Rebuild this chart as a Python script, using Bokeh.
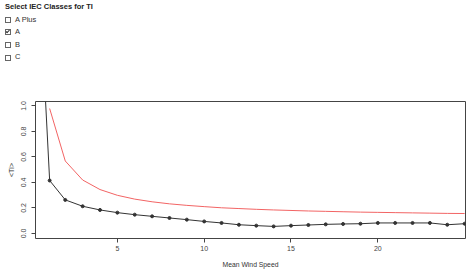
from bokeh.plotting import figure
from bokeh.layouts import column
from bokeh.models import Div, Range1d, FixedTicker, InlineStyleSheet
from bokeh.embed import file_html
from bokeh.resources import INLINE

# ---- data ----
class_labels = ["A Plus", "A", "B", "C"]
active_classes = [1]

wind_obs = [0.5, 1.1, 2, 3, 4, 5, 6, 7, 8, 9, 10, 11, 12, 13, 14, 15, 16, 17,
            18, 19, 20, 21, 22, 23, 24, 25]
ti_obs = [2.0, 0.415, 0.263, 0.213, 0.184, 0.163, 0.147, 0.134, 0.121, 0.108,
          0.094, 0.082, 0.068, 0.061, 0.055, 0.061, 0.066, 0.071, 0.074, 0.076,
          0.082, 0.082, 0.082, 0.082, 0.068, 0.076]

wind_iec = [1.1, 2, 3, 4, 5, 6, 7, 8, 9, 10, 11, 12, 13, 14, 15, 16, 17, 18,
            19, 20, 21, 22, 23, 24, 25]
ti_iec_a = [0.98, 0.568, 0.419, 0.344, 0.299, 0.269, 0.248, 0.232, 0.220,
            0.210, 0.201, 0.195, 0.189, 0.184, 0.180, 0.176, 0.173, 0.170,
            0.167, 0.165, 0.163, 0.161, 0.159, 0.157, 0.156]

x_ticks = [5, 10, 15, 20]
y_ticks = [0.0, 0.2, 0.4, 0.6, 0.8, 1.0]

FONT = "'Liberation Sans', Arial, Helvetica, sans-serif"

panel_css = InlineStyleSheet(css=f"""
.panel {{ font-family: {FONT}; color: #333; font-size: 7.5px; }}
.title {{ font-weight: bold; color: #222; height: 12.6px; line-height: 12.6px; }}
.row {{ display: flex; align-items: center; height: 12.6px; line-height: 12.6px; }}
.box {{ box-sizing: border-box; width: 6px; height: 6px; border: 1px solid #666;
        background: #fff; margin: 0 4px 0 0; position: relative; flex: none; }}
.box.on::after {{ content: ""; position: absolute; left: 1px; top: -1px;
        width: 1.5px; height: 3.5px; border: solid #333;
        border-width: 0 1px 1px 0; transform: rotate(45deg); }}
""")

rows = "".join(
    f'<div class="row"><div class="box{" on" if i in active_classes else ""}"></div>'
    f'<span>{lab}</span></div>'
    for i, lab in enumerate(class_labels)
)
panel = Div(
    text=f'<div class="panel"><div class="title">Select IEC Classes for TI</div>{rows}</div>',
    width=469, height=70, margin=(1, 0, 0, 5),
    stylesheets=[panel_css],
)

p = figure(width=474, height=200,
           x_range=Range1d(0.285, 25.05), y_range=Range1d(-0.04, 1.035),
           output_backend="svg", toolbar_location=None,
           min_border_left=35, min_border_right=9,
           min_border_top=30, min_border_bottom=33)

p.outline_line_color = "#444"
p.outline_line_width = 1
p.grid.visible = False
p.background_fill_color = "white"
p.border_fill_color = "white"

p.line(wind_iec, ti_iec_a, line_color="#f26464", line_width=1)
p.line(wind_obs, ti_obs, line_color="#333333", line_width=1)
p.scatter(wind_obs, ti_obs, marker="circle", size=3,
          fill_color="#333333", line_color="#333333")

for ax in (p.xaxis[0], p.yaxis[0]):
    ax.axis_line_color = None
    ax.major_tick_line_color = "#444"
    ax.major_tick_out = 4
    ax.major_tick_in = 0
    ax.minor_tick_line_color = None
    ax.major_label_text_font = "Liberation Sans"
    ax.major_label_text_font_size = "7px"
    ax.major_label_text_color = "#444"
    ax.axis_label_text_font = "Liberation Sans"
    ax.axis_label_text_font_size = "6.8px"
    ax.axis_label_text_font_style = "normal"
    ax.axis_label_text_color = "#333"

p.xaxis.ticker = FixedTicker(ticks=x_ticks)
p.yaxis.ticker = FixedTicker(ticks=y_ticks)
p.yaxis.major_label_overrides = {t: f"{t:.1f}" for t in y_ticks}
p.xaxis.major_label_standoff = 3
p.yaxis.major_label_standoff = 5
p.yaxis.major_label_orientation = "vertical"
p.xaxis.axis_label = "Mean Wind Speed"
p.yaxis.axis_label = "<TI>"
p.xaxis.axis_label_standoff = 7
p.yaxis.axis_label_standoff = 4

layout = column(panel, p, spacing=0)

open("out.html", "w").write(file_html(layout, INLINE))
